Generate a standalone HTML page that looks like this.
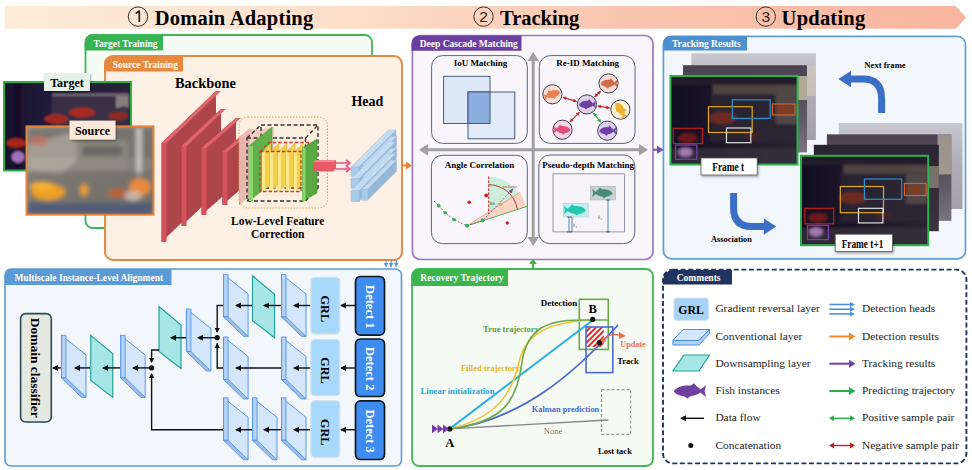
<!DOCTYPE html>
<html><head><meta charset="utf-8">
<style>
html,body{margin:0;padding:0;background:#fff;width:972px;height:470px;overflow:hidden}
svg{display:block}
text{font-family:"Liberation Serif",serif}
.lb{font-weight:bold;fill:#fff;font-size:9.5px}
.b{font-weight:bold}
text.sans{font-family:"Liberation Sans",sans-serif}
</style></head><body>
<svg width="972" height="470" viewBox="0 0 972 470">
<defs>
<linearGradient id="hdr" gradientUnits="userSpaceOnUse" x1="5" x2="967" y1="0" y2="0">
<stop offset="0" stop-color="#fdecd7"/>
<stop offset="0.3" stop-color="#fde2ce"/>
<stop offset="0.5" stop-color="#fcd2be"/>
<stop offset="0.65" stop-color="#fac4ae"/>
<stop offset="1" stop-color="#f9b69f"/>
</linearGradient>
</defs>
<!-- HEADER -->
<polygon points="4.7,6.1 955.8,6.1 966.2,17.4 955.8,28.7 4.7,28.7" fill="url(#hdr)"/>
<g fill="none" stroke="#333" stroke-width="1"><circle cx="138" cy="16.6" r="9.7"/><circle cx="483.5" cy="16.6" r="9.7"/><circle cx="765.8" cy="16.6" r="9.7"/></g>
<path d="M139.3,22 V11 L135.6,13.6" fill="none" stroke="#222" stroke-width="1.7" stroke-linejoin="round"/>
<g font-size="15.5" text-anchor="middle" fill="#222"><text class="sans" x="483.5" y="22">2</text><text class="sans" x="765.8" y="22">3</text></g>
<text x="154.7" y="24.5" font-size="20.5" class="b" textLength="158.5" lengthAdjust="spacing">Domain Adapting</text>
<text x="500" y="24.5" font-size="20.5" class="b">Tracking</text>
<text x="781.6" y="24.5" font-size="20.5" class="b" textLength="83.6" lengthAdjust="spacing">Updating</text>

<!-- TARGET TRAINING -->
<rect x="85.5" y="35" width="286.5" height="193" rx="7" fill="#f6fbf6" stroke="#40b858" stroke-width="1.8"/>
<path d="M84.6,50.5 V42 a7,7 0 0 1 7,-7 H163 V50.5 Z" fill="#36b454"/>
<text x="125.6" y="47" class="lb" text-anchor="middle">Target Training</text>

<!-- SOURCE TRAINING -->
<rect x="105" y="56" width="297" height="204" rx="8" fill="#fdf0e4" stroke="#e6883e" stroke-width="1.9"/>
<path d="M104.1,71.5 V64 a8,8 0 0 1 8,-8 H183 V71.5 Z" fill="#e6883e"/>
<text x="145.3" y="67.8" class="lb" text-anchor="middle">Source Training</text>


<!-- PHOTOS -->
<defs>
<linearGradient id="tgtbg" x1="0" x2="1" y1="0" y2="0"><stop offset="0" stop-color="#16122e"/><stop offset="0.4" stop-color="#221c3c"/><stop offset="1" stop-color="#2a2238"/></linearGradient>
<linearGradient id="srcbg" x1="0" x2="1" y1="0" y2="1"><stop offset="0" stop-color="#9a968c"/><stop offset="0.5" stop-color="#8a867e"/><stop offset="1" stop-color="#767472"/></linearGradient>
<filter id="blur2" filterUnits="userSpaceOnUse" x="0" y="0" width="972" height="470"><feGaussianBlur stdDeviation="2"/></filter>
<filter id="blur1" filterUnits="userSpaceOnUse" x="0" y="0" width="972" height="470"><feGaussianBlur stdDeviation="1.2"/></filter>
<clipPath id="tclip"><rect x="5" y="83" width="125" height="86.5"/></clipPath>
<clipPath id="sclip"><rect x="27.5" y="127.4" width="125" height="86.3"/></clipPath>
<filter id="sh" x="-20%" y="-20%" width="140%" height="150%"><feDropShadow dx="1" dy="1.5" stdDeviation="1" flood-color="#000" flood-opacity="0.35"/></filter>
</defs>
<rect x="4" y="82" width="127" height="88.5" fill="url(#tgtbg)" stroke="#2ab04a" stroke-width="2"/>
<g clip-path="url(#tclip)"><g filter="url(#blur1)">
<rect x="15" y="84" width="6" height="84" fill="#0e0a20" opacity="0.6"/>
<rect x="52" y="93" width="77" height="3" fill="#8a8088" opacity="0.7"/>
<rect x="52" y="96" width="77" height="30" fill="#3e3448" opacity="0.8"/>
<rect x="116" y="96" width="13" height="12" fill="#a8a090" opacity="0.7"/>
<rect x="52" y="126" width="77" height="10" fill="#2e2638" opacity="0.8"/>
<ellipse cx="82" cy="112.5" rx="13" ry="5" fill="#a82a20"/>
<ellipse cx="56" cy="119" rx="12" ry="5" fill="#a02a20"/>
<ellipse cx="118" cy="116" rx="10" ry="4" fill="#902a20"/>
<ellipse cx="124" cy="109" rx="5" ry="3" fill="#3a3a50"/>
<ellipse cx="16" cy="143" rx="10" ry="5" fill="#a82818"/>
<ellipse cx="18" cy="157" rx="7" ry="6" fill="#a070b8"/>
</g></g>
<rect x="26.5" y="126.4" width="127" height="88.3" fill="url(#srcbg)" stroke="#e8843a" stroke-width="2"/>
<g clip-path="url(#sclip)"><g filter="url(#blur2)">
<rect x="28" y="128" width="124" height="30" fill="#6a6862" opacity="0.6"/>
<polygon points="28,145 70,133 90,150 60,175 28,170" fill="#c4bcae" opacity="0.55"/>
<rect x="76" y="141" width="52" height="30" fill="#8e8a82" opacity="0.9"/>
<rect x="82" y="146" width="40" height="10" fill="#5a5a5a" opacity="0.7"/>
<rect x="136" y="128" width="6" height="48" fill="#d8d4cc" opacity="0.8"/>
<rect x="28" y="171" width="124" height="33" fill="#6a6660" opacity="0.5"/>
<rect x="28" y="203" width="124" height="11" fill="#4e5878" opacity="0.9"/>
<ellipse cx="39" cy="141" rx="9" ry="4.5" fill="#c87060" opacity="0.8"/>
<ellipse cx="48" cy="192" rx="17" ry="8" fill="#f0a020"/>
<ellipse cx="42" cy="186" rx="12" ry="4" fill="#f8b030"/>
<ellipse cx="84" cy="190" rx="4" ry="6" fill="#f0a030"/>
<ellipse cx="118" cy="193" rx="10" ry="4" fill="#c06030"/>
<ellipse cx="140" cy="187" rx="11" ry="9" fill="#e88a40"/>
<ellipse cx="133" cy="196" rx="9" ry="5" fill="#d8c0b8" opacity="0.8"/>
</g></g>
<rect x="44" y="73" width="46" height="18" fill="#e6f1e8" filter="url(#sh)"/>
<text x="67" y="86.5" font-size="12" class="b" text-anchor="middle">Target</text>
<rect x="69.5" y="120.6" width="46" height="19" fill="#fbe9da" filter="url(#sh)"/>
<text x="92.5" y="134.5" font-size="12" class="b" text-anchor="middle">Source</text>

<!-- BACKBONE -->
<text x="175" y="88" font-size="14.4" class="b">Backbone</text>
<g>
<polygon points="161.5,143 216,91 216,190 161.5,242" fill="#ae454b"/>
<polygon points="161.5,143 166.5,143 221,91 216,91" fill="#e0646c"/>
<rect x="161.5" y="143" width="5" height="99" fill="#d4525c"/>
<polygon points="181.5,146 221,109 221,189 181.5,226" fill="#ae454b"/>
<polygon points="181.5,146 186.5,146 226,109 221,109" fill="#e0646c"/>
<rect x="181.5" y="146" width="5" height="80" fill="#d4525c"/>
<polygon points="201.5,148 236,118 236,185 201.5,215" fill="#ae454b"/>
<polygon points="201.5,148 206.5,148 241,118 236,118" fill="#e0646c"/>
<rect x="201.5" y="148" width="5" height="67" fill="#d4525c"/>
<polygon points="222.5,152 249,129 249,182 222.5,205" fill="#ae454b"/>
<polygon points="222.5,152 227.5,152 254,129 249,129" fill="#e0646c"/>
<rect x="222.5" y="152" width="5" height="53" fill="#d4525c"/>
</g>
<polygon points="239,140 250,131 250,196 239,205" fill="#d0606a" opacity="0.9"/>
<polygon points="250,131 274,127 274,180 250,196" fill="#cc6a70" opacity="0.6"/>
<!-- LLFC -->
<rect x="239" y="117" width="88.5" height="91" rx="9" fill="#fcefdc" fill-opacity="0.6" stroke="#d4a84a" stroke-width="1" stroke-dasharray="1.5,1.5"/>
<g fill="none" stroke="#333" stroke-width="1.4" stroke-dasharray="4,2.5">
<rect x="247" y="138" width="58.5" height="63"/>
<rect x="261" y="125" width="57" height="63"/>
<line x1="247" y1="138" x2="261" y2="125"/><line x1="305.5" y1="138" x2="318" y2="125"/>
<line x1="247" y1="201" x2="261" y2="188"/><line x1="305.5" y1="201" x2="318" y2="188"/>
</g>
<polygon points="249,146 272,127 272,183 249,201" fill="#62b04a" stroke="#4a9a3a" stroke-width="0.6"/>
<polygon points="249,146 253,146 253,201 249,201" fill="#8ad86a"/>
<g fill="#f3d04a" stroke="#d8a830" stroke-width="0.5">
<polygon points="262,152 271,143 271,184 262,192"/>
<polygon points="270,152 279,143 279,184 270,192"/>
<polygon points="278,152 287,143 287,184 278,192"/>
<polygon points="286,152 295,143 295,184 286,192"/>
<polygon points="294,152 303,143 303,184 294,192"/>
</g>
<g fill="#fde88a"><rect x="262" y="152" width="3" height="40"/><rect x="270" y="152" width="3" height="40"/><rect x="278" y="152" width="3" height="40"/><rect x="286" y="152" width="3" height="40"/><rect x="294" y="152" width="3" height="40"/></g>
<g fill="none" stroke="#d03a2a" stroke-width="1.3" stroke-dasharray="3.5,2">
<rect x="260" y="151.5" width="41" height="40"/>
<polyline points="260,151.5 269,142.5 310,142.5 301,151.5"/>
</g>
<polygon points="302.5,148 317,139 317,193 302.5,201" fill="#5aa844" stroke="#4a9a3a" stroke-width="0.6"/>
<polygon points="302.5,148 305.5,148 305.5,201 302.5,201" fill="#8ad86a"/>
<text x="277.7" y="224.5" font-size="11.5" class="b" text-anchor="middle">Low-Level Feature</text>
<text x="277.7" y="237.5" font-size="11.5" class="b" text-anchor="middle">Correction</text>
<!-- red box + arrows -->
<polygon points="313,162 333,162 336,160 336,169 333,171.5 313,171.5" fill="#e85a66"/>
<polygon points="313,162 333,162 336,160 316,160" fill="#f08890"/>
<g stroke="#e85a8a" stroke-width="1.6" fill="none"><line x1="336" y1="163" x2="349" y2="163"/><line x1="336" y1="169" x2="349" y2="169"/>
<polyline points="346,160 350,163 346,166"/><polyline points="346,166 350,169 346,172"/></g>
<!-- HEAD -->
<text x="351.4" y="106" font-size="14" class="b">Head</text>
<g stroke="#9cbcdc" stroke-width="0.4">
<polygon points="351,167 359,167 396,130 388,130" fill="#c4dcf2"/>
<polygon points="359,167 359,176.5 396,139.5 396,130" fill="#98b8d8"/>
<rect x="351" y="167" width="8" height="9.5" fill="#aacaea"/>
<polygon points="362,165.5 367.5,165.5 396.5,136.5 391,136.5" fill="#c4dcf2"/>
<polygon points="367.5,165.5 367.5,175.0 396.5,146.0 396.5,136.5" fill="#98b8d8"/>
<rect x="362" y="165.5" width="5.5" height="9.5" fill="#aacaea"/>
<polygon points="351,178.8 359,178.8 396,141.8 388,141.8" fill="#c4dcf2"/>
<polygon points="359,178.8 359,188.3 396,151.3 396,141.8" fill="#98b8d8"/>
<rect x="351" y="178.8" width="8" height="9.5" fill="#aacaea"/>
<polygon points="362,177.3 367.5,177.3 396.5,148.3 391,148.3" fill="#c4dcf2"/>
<polygon points="367.5,177.3 367.5,186.8 396.5,157.8 396.5,148.3" fill="#98b8d8"/>
<rect x="362" y="177.3" width="5.5" height="9.5" fill="#aacaea"/>
<polygon points="351,190.8 359,190.8 396,153.8 388,153.8" fill="#c4dcf2"/>
<polygon points="359,190.8 359,201.8 396,164.8 396,153.8" fill="#98b8d8"/>
<rect x="351" y="190.8" width="8" height="11" fill="#aacaea"/>
<polygon points="362,189.3 367.5,189.3 396.5,160.3 391,160.3" fill="#c4dcf2"/>
<polygon points="367.5,189.3 367.5,200.3 396.5,171.3 396.5,160.3" fill="#98b8d8"/>
<rect x="362" y="189.3" width="5.5" height="11" fill="#aacaea"/>
</g>
<!-- orange arrow -->
<line x1="402" y1="165.5" x2="408" y2="165.5" stroke="#e8843a" stroke-width="2"/>
<polygon points="406,161.5 412,165.5 406,169.5" fill="#e8843a"/>
<!-- blue triple arrows -->
<g stroke="#5b9bd5" stroke-width="1.3"><line x1="386" y1="260" x2="386" y2="265"/><line x1="391" y1="260" x2="391" y2="265"/><line x1="396.2" y1="260" x2="396.2" y2="265"/></g>
<g fill="#5b9bd5"><polygon points="383.8,263 388.2,263 386,268"/><polygon points="388.8,263 393.2,263 391,268"/><polygon points="394,263 398.4,263 396.2,268"/></g>

<!-- DEEP CASCADE -->
<rect x="412.4" y="35.5" width="240.6" height="224" rx="8" fill="#f8f5fb" stroke="#9a78c4" stroke-width="1.7"/>
<path d="M411.5,50.8 V43.5 a8,8 0 0 1 8,-8 H521.5 V50.8 Z" fill="#6b3fa0"/>
<text x="468.8" y="47" class="lb" text-anchor="middle">Deep Cascade Matching</text>


<!-- DCM content -->
<g fill="#f8f6fb" stroke="#4a5670" stroke-width="0.9">
<rect x="431.6" y="55.6" width="95.7" height="87.8" rx="11"/>
<rect x="539.3" y="55.6" width="95.7" height="87.8" rx="11"/>
<rect x="431.4" y="155.3" width="95.9" height="88.3" rx="11"/>
<rect x="538.8" y="155" width="96" height="88.6" rx="11"/>
</g>
<g font-size="9" class="b" text-anchor="middle">
<text x="480.5" y="65.5">IoU Matching</text>
<text x="587.7" y="65.5">Re-ID Matching</text>
<text x="479.5" y="167.6">Angle Correlation</text>
<text x="588.2" y="167.6">Pseudo-depth Matching</text>
</g>
<!-- IoU squares -->
<rect x="443.6" y="76.3" width="46.4" height="47.1" fill="#dde9f6" stroke="#3a4a6a" stroke-width="0.9"/>
<rect x="468" y="92" width="46.8" height="46.8" fill="#dde9f6" fill-opacity="0.85" stroke="#3a4a6a" stroke-width="0.9"/>
<rect x="468" y="92" width="22" height="31.4" fill="#8aaee0" stroke="#3a4a6a" stroke-width="0.9"/>
<!-- gray cross arrows -->
<g stroke="#a0a0a0" stroke-width="3" fill="#a0a0a0">
<line x1="533.2" y1="60" x2="533.2" y2="238"/>
<line x1="427" y1="149.7" x2="640" y2="149.7"/>
</g>
<g fill="#a0a0a0">
<polygon points="527.5,61 533.2,52 538.9,61"/>
<polygon points="527.5,237 533.2,246 538.9,237"/>
<polygon points="428,144 419,149.7 428,155.4"/>
<polygon points="639,144 648,149.7 639,155.4"/>
</g>
<!-- purple arrow to tracking results -->
<line x1="653" y1="149.7" x2="659" y2="149.7" stroke="#7b4fa8" stroke-width="2"/>
<polygon points="657,145.7 664,149.7 657,153.7" fill="#7b4fa8"/>
<!-- green arrow up -->
<line x1="533" y1="268" x2="533" y2="263" stroke="#3cb54a" stroke-width="2"/>
<polygon points="529,264 533,259 537,264" fill="#3cb54a"/>
<!-- ReID -->
<defs>
<path id="fish" d="M-8,0.3 C-6.5,-2.8 -3,-4 1,-3.6 L2.5,-5.2 L4.2,-3 C5,-2.4 5.6,-1.6 6,-1 L9,-4 L8.2,0 L9,4 L6,1 C5,2 3,3.2 0.5,3.6 L-0.8,5 L-2.6,3.5 C-5,3.2 -7,2.2 -8,0.3 Z"/>
<marker id="rh" viewBox="0 0 6 6" refX="5" refY="3" markerWidth="3.2" markerHeight="3.2" orient="auto-start-reverse"><path d="M0,0 L6,3 L0,6 Z" fill="#c82a2a"/></marker>
<marker id="gh" viewBox="0 0 6 6" refX="5" refY="3" markerWidth="3.2" markerHeight="3.2" orient="auto-start-reverse"><path d="M0,0 L6,3 L0,6 Z" fill="#2ab04a"/></marker>
</defs>
<g stroke-width="1.2">
<line x1="576.3" y1="101.3" x2="563.0" y2="97.4" stroke="#c82a2a" marker-start="url(#rh)" marker-end="url(#rh)"/>
<line x1="594.8" y1="96.7" x2="600.6" y2="91.1" stroke="#c82a2a" marker-start="url(#rh)" marker-end="url(#rh)"/>
<line x1="597.8" y1="106.1" x2="609.5" y2="107.9" stroke="#c82a2a" marker-start="url(#rh)" marker-end="url(#rh)"/>
<line x1="579.3" y1="112.3" x2="570.1" y2="121.8" stroke="#c82a2a" marker-start="url(#rh)" marker-end="url(#rh)"/>
<line x1="593.6" y1="113.1" x2="600.6" y2="122.0" stroke="#2ab04a" marker-start="url(#gh)" marker-end="url(#gh)"/>
</g>
<g stroke="#3a4060" stroke-width="1">
<circle cx="608.5" cy="83.4" r="9.6" fill="#f4dcd4"/>
<circle cx="552.4" cy="94.3" r="9.6" fill="#fbe0d4"/>
<circle cx="586.9" cy="104.4" r="9.6" fill="#dcd0ea"/>
<circle cx="620.4" cy="109.6" r="9.6" fill="#fdf1d4"/>
<circle cx="562.5" cy="129.7" r="9.6" fill="#f7d6e0"/>
<circle cx="607.3" cy="130.7" r="9.6" fill="#ddd2ee"/>
</g>
<use href="#fish" transform="translate(608.5,83.4)" fill="#d2694a"/>
<use href="#fish" transform="translate(552.4,94.3) rotate(-20) scale(-1,1)" fill="#f08050"/>
<use href="#fish" transform="translate(586.9,104.4)" fill="#7040a0"/>
<use href="#fish" transform="translate(620.4,109.6) rotate(60)" fill="#f0b030"/>
<use href="#fish" transform="translate(562.5,129.7) scale(-1,1)" fill="#e05080"/>
<use href="#fish" transform="translate(607.3,130.7)" fill="#7040a8"/>
<!-- Angle correlation -->
<path d="M488.7,176.4 A37.6,37.6 0 0 1 524.5,207 L488.7,214 Z" fill="#cdeedb"/>
<path d="M467,225.8 L520,192.3 Q523.5,199 526,206.5 Z" fill="#f9d3c3"/>
<path d="M488.7,184.7 A29.3,29.3 0 0 1 517.5,209.6" fill="none" stroke="#b83a3a" stroke-width="1"/>
<line x1="467" y1="225.8" x2="527" y2="206.4" stroke="#3cb04a" stroke-width="0.9"/>
<line x1="467" y1="225.8" x2="520" y2="192.3" stroke="#f0a070" stroke-width="0.9"/>
<line x1="488.7" y1="176.4" x2="488.7" y2="214" stroke="#c03a3a" stroke-width="1.2" stroke-dasharray="2.5,1.5"/>
<polyline points="434,201 438.8,205.7 445.2,212.8 454.1,219.8 467,225.8 482.7,220.4 511,191" fill="none" stroke="#7a5aa0" stroke-width="0.9" stroke-dasharray="2,1.5"/>
<polygon points="508.5,191 513.5,188.3 511.5,193.5" fill="#6a4aa0"/>
<g fill="#2ab04a"><circle cx="438.8" cy="205.7" r="1.8"/><circle cx="445.2" cy="212.8" r="1.8"/><circle cx="454.1" cy="219.8" r="1.8"/><circle cx="467" cy="225.8" r="2"/><circle cx="482.7" cy="220.4" r="1.9"/></g>
<g fill="#d02020"><circle cx="469.2" cy="202.2" r="1.8"/><circle cx="486.2" cy="195.5" r="1.9"/><circle cx="507.3" cy="223" r="1.7"/></g>
<circle cx="500.6" cy="204.2" r="1.8" fill="#f39a60"/>
<text x="489.5" y="205" font-size="4.5" fill="#333">Δθ</text>
<text x="503" y="187.5" font-size="3.5" fill="#b83a3a">prediction</text>
<!-- pseudo-depth -->
<rect x="553" y="173.8" width="71.4" height="58.1" fill="#f6f4f9" stroke="#808090" stroke-width="0.8"/>
<rect x="590.3" y="186.2" width="25.1" height="13.8" fill="#c8d2d2" stroke="#9aa" stroke-width="0.5"/>
<use href="#fish" transform="translate(603,193) scale(-1.2,1.05)" fill="#4a8a78"/>
<rect x="563.3" y="203.2" width="24.9" height="13.8" fill="#c6eeee" stroke="#9cc" stroke-width="0.5"/>
<use href="#fish" transform="translate(575.5,210) scale(-1.3,1.1)" fill="#20c8b0"/>
<g stroke="#3a8ad0" stroke-width="1"><line x1="569" y1="217" x2="569" y2="232"/><line x1="608" y1="200" x2="608" y2="232"/></g>
<g stroke="#222" stroke-width="0.6" fill="none"><polyline points="567,217 572,217 572,232 567,232"/><polyline points="606,200 610,200"/><polyline points="606,232 610,232"/></g>
<text x="573" y="227" font-size="5" fill="#333">ℓ₁</text>
<text x="598" y="219" font-size="5" fill="#333">ℓ₂</text>

<!-- TRACKING RESULTS -->
<rect x="663.4" y="36.4" width="302.1" height="222.4" rx="8" fill="#f3f6fa" stroke="#5fa0dc" stroke-width="1.7"/>
<path d="M663,50.5 V43 a7,7 0 0 1 7,-7 H747 V50.5 Z" fill="#4a90d0"/>
<text x="706.3" y="47" class="lb" text-anchor="middle">Tracking Results</text>


<!-- TR content -->
<defs>
<linearGradient id="frm" x1="0" x2="1" y1="0" y2="0"><stop offset="0" stop-color="#120e22"/><stop offset="0.4" stop-color="#1c1628"/><stop offset="1" stop-color="#2a2230"/></linearGradient>
<linearGradient id="bk1" x1="0" x2="0" y1="0" y2="1"><stop offset="0" stop-color="#c8c8ce"/><stop offset="0.5" stop-color="#aeacb4"/><stop offset="1" stop-color="#a4a0a8"/></linearGradient>
<linearGradient id="bk2" x1="0" x2="0" y1="0" y2="1"><stop offset="0" stop-color="#4a4250"/><stop offset="0.6" stop-color="#5e5866"/><stop offset="1" stop-color="#7a7480"/></linearGradient>
<linearGradient id="bk3" x1="0" x2="0" y1="0" y2="1"><stop offset="0" stop-color="#2a2432"/><stop offset="1" stop-color="#3a3440"/></linearGradient>
<filter id="blur3" x="-0.2" y="-0.2" width="1.4" height="1.4"><feGaussianBlur stdDeviation="1.5"/></filter>
<clipPath id="fclip"><rect x="0" y="0" width="127" height="89"/></clipPath>
<g id="frameimg">
<rect x="0" y="0" width="127" height="89" fill="url(#frm)"/>
<g filter="url(#blur3)" clip-path="url(#fclip)">
<rect x="0" y="0" width="127" height="9" fill="#241e2c"/>
<rect x="42" y="9" width="85" height="9" fill="#5a5048" opacity="0.8"/>
<rect x="40" y="18" width="87" height="48" fill="#2c2434" opacity="0.8"/>
<rect x="105" y="18" width="22" height="30" fill="#6a6058" opacity="0.6"/>
<rect x="0" y="72" width="127" height="17" fill="#36343a" opacity="0.7"/>
<ellipse cx="52" cy="42" rx="14" ry="6" fill="#7a2a20" opacity="0.85"/>
<ellipse cx="17" cy="62" rx="10" ry="5" fill="#7a1a1a" opacity="0.9"/>
<ellipse cx="15" cy="76" rx="7" ry="5" fill="#b080c0" opacity="0.9"/>
<ellipse cx="114" cy="34" rx="9" ry="4" fill="#8a3a1a" opacity="0.9"/>
<ellipse cx="82" cy="60" rx="8" ry="4" fill="#4a2020" opacity="0.8"/>
</g>
</g>
</defs>
<!-- frame t stack -->
<rect x="691.3" y="53.3" width="124.6" height="86.7" fill="url(#bk1)"/>
<rect x="683" y="65.2" width="124" height="87.2" fill="url(#bk2)"/>
<rect x="797.5" y="76" width="9.5" height="24" fill="#c8c0a8" opacity="0.8"/>
<rect x="807" y="66" width="8.9" height="30" fill="#d0ccc0" opacity="0.6"/>
<g transform="translate(670.5,76)"><use href="#frameimg"/></g>
<rect x="670.5" y="76" width="127" height="88.5" fill="none" stroke="#2ab04a" stroke-width="2"/>
<g fill="none" stroke-width="1.2">
<rect x="673.3" y="128.3" width="29.1" height="15.3" stroke="#c02020"/>
<rect x="675.5" y="145" width="21.3" height="14.3" stroke="#7a40b0"/>
<rect x="708.5" y="106.7" width="43.7" height="25.8" stroke="#e0a820"/>
<rect x="732.3" y="99.8" width="37.9" height="18.6" stroke="#2a90d0"/>
<rect x="772.4" y="104" width="22.6" height="11" stroke="#e06020"/>
<rect x="726.5" y="128" width="24.3" height="14.7" stroke="#e0e0e0"/>
</g>
<rect x="701" y="158" width="56.2" height="17" fill="#fff" stroke="#555" stroke-width="0.8" filter="url(#sh)"/>
<text x="728.2" y="170.5" font-size="11.5" class="b" text-anchor="middle" textLength="32" lengthAdjust="spacingAndGlyphs">Frame t</text>
<!-- frame t+1 stack -->
<rect x="838.8" y="123" width="123.7" height="86" fill="url(#bk1)"/>
<rect x="826.9" y="134.4" width="124.5" height="86.4" fill="url(#bk2)"/>
<rect x="937.5" y="134.4" width="13.9" height="40" fill="#cfc8b4" opacity="0.6"/>
<rect x="813.8" y="144.8" width="125" height="86.4" fill="url(#bk3)"/>
<rect x="928" y="166" width="10.8" height="22" fill="#a8a090" opacity="0.6"/>
<g transform="translate(801,155.8)"><use href="#frameimg"/></g>
<rect x="801" y="155.8" width="127.2" height="89.4" fill="none" stroke="#2ab04a" stroke-width="2"/>
<g fill="none" stroke-width="1.2">
<rect x="804.8" y="208.3" width="28.9" height="15.5" stroke="#c02020"/>
<rect x="807.5" y="225.3" width="20.9" height="14.3" stroke="#7a40b0"/>
<rect x="840.3" y="186.5" width="43.2" height="26.2" stroke="#e0a820"/>
<rect x="864.4" y="179" width="37.3" height="20.3" stroke="#2a90d0"/>
<rect x="904.4" y="183.5" width="21.7" height="12" stroke="#e06020"/>
<rect x="858.5" y="208.3" width="24.4" height="14.6" stroke="#e0e0e0"/>
</g>
<rect x="835.2" y="234.2" width="57.2" height="17.3" fill="#fff" stroke="#555" stroke-width="0.8" filter="url(#sh)"/>
<text x="862.5" y="247.5" font-size="11.5" class="b" text-anchor="middle" textLength="41.7" lengthAdjust="spacingAndGlyphs">Frame t+1</text>
<!-- next frame arrow -->
<text x="885" y="67.5" font-size="8.6" class="b" text-anchor="middle">Next frame</text>
<path d="M881.6,113 V99 Q881.6,79.1 863,79.1 H849" fill="none" stroke="#3b6ec6" stroke-width="7"/>
<polygon points="851,70.9 838.3,79.1 851,87.3" fill="#3b6ec6"/>
<!-- association arrow -->
<path d="M733.6,193 V208 Q733.6,226.5 752,226.5 H765" fill="none" stroke="#3b6ec6" stroke-width="7"/>
<polygon points="763.9,218.4 776.2,226.5 763.9,234.8" fill="#3b6ec6"/>
<text x="731.5" y="241.5" font-size="8.4" class="b" text-anchor="middle">Association</text>

<!-- MILA -->
<rect x="5" y="269" width="396.5" height="197" rx="6" fill="#f3f6fa" stroke="#5b9bd5" stroke-width="1.6"/>
<path d="M5,285 V275 a6,6 0 0 1 6,-6 H171.5 V285 Z" fill="#5b9bd5"/>
<text x="88.8" y="280.5" class="lb" text-anchor="middle">Multiscale Instance-Level Alignment</text>


<!-- MILA content -->
<defs>
<g id="conv">
<polygon points="0,0 24.5,19.5 24.5,62 0,42.5" fill="#d4e6fb" stroke="#4a8ee6" stroke-width="0.9"/>
<polygon points="0,0 4.5,0 4.5,42.5 0,42.5" fill="#b4d2f6" stroke="#4a8ee6" stroke-width="0.8"/>
<polygon points="0,42.5 4.5,42.5 24.5,62 20,62" fill="#9cbde6" stroke="#4a8ee6" stroke-width="0.8"/>
</g>
<g id="down">
<polygon points="0,0 22,18.5 22,62 0,45" fill="#a6e6e6" stroke="#23a398" stroke-width="1.2"/>
</g>
<marker id="ah" viewBox="0 0 6 6" refX="5" refY="3" markerWidth="4.3" markerHeight="4.3" orient="auto"><path d="M0,0 L6,3 L0,6 Z" fill="#111"/></marker>
</defs>
<rect x="20.6" y="313.6" width="30.7" height="108.4" rx="5" fill="#e6e8e2" stroke="#2a4a5a" stroke-width="1.6"/>
<text transform="translate(31,367.8) rotate(90)" font-size="13.5" class="b" text-anchor="middle">Domain classifier</text>
<!-- level 3 (lowest scale) row at y 367.9 -->
<use href="#conv" transform="translate(61.5,335.4)"/>
<use href="#down" transform="translate(90.8,335.4)"/>
<use href="#conv" transform="translate(120.7,335.4)"/>
<use href="#down" transform="translate(159,306.5)"/>
<use href="#conv" transform="translate(186.4,309)"/>
<!-- right rows -->
<use href="#conv" transform="translate(223.6,274.4)"/>
<use href="#down" transform="translate(252.5,275.7)"/>
<use href="#conv" transform="translate(281.5,274.4)"/>
<use href="#conv" transform="translate(223.6,337)"/>
<use href="#conv" transform="translate(281.5,337)"/>
<use href="#conv" transform="translate(223.6,397.8)"/>
<use href="#conv" transform="translate(252.5,397.8)"/>
<use href="#conv" transform="translate(281.5,397.8)"/>
<!-- arrows -->
<g stroke="#111" stroke-width="1.4" fill="none" marker-end="url(#ah)">
<line x1="61" y1="367.9" x2="53" y2="367.9"/>
<line x1="90" y1="367.9" x2="75" y2="367.9"/>
<line x1="120" y1="367.9" x2="103" y2="367.9"/>
<line x1="151.6" y1="367.9" x2="133" y2="367.9"/>
<line x1="186" y1="337.7" x2="171" y2="337.7"/>
<line x1="217.2" y1="337.7" x2="198" y2="337.7"/>
<line x1="252" y1="305.5" x2="236" y2="305.5"/>
<line x1="281" y1="305.5" x2="264" y2="305.5"/>
<line x1="310.5" y1="305.5" x2="294" y2="305.5"/>
<line x1="355" y1="305.5" x2="341" y2="305.5"/>
<line x1="281" y1="368" x2="236" y2="368"/>
<line x1="310.5" y1="368" x2="294" y2="368"/>
<line x1="355" y1="368" x2="341" y2="368"/>
<line x1="252" y1="429.7" x2="236" y2="429.7"/>
<line x1="281" y1="429.7" x2="264" y2="429.7"/>
<line x1="310.5" y1="429.7" x2="294" y2="429.7"/>
<line x1="355" y1="429.7" x2="341" y2="429.7"/>
</g>
<g stroke="#111" stroke-width="1.4" fill="none">
<polyline points="159,350 151.6,350 151.6,362"/>
<polyline points="223,429.7 151.6,429.7 151.6,374"/>
<polyline points="223,305.5 217.2,305.5 217.2,332"/>
<polyline points="223,368 217.2,368 217.2,343"/>
</g>
<g fill="#111">
<circle cx="151.6" cy="367.9" r="2.6"/><circle cx="217.2" cy="337.7" r="2.6"/>
<polygon points="149,358 151.6,363 154.2,358"/><polygon points="149,378 151.6,373 154.2,378"/>
<polygon points="214.6,328 217.2,333 219.8,328"/><polygon points="214.6,348 217.2,343 219.8,348"/>
</g>
<!-- GRL + detect -->
<g fill="#a8d8fa" stroke="#d4e0ea" stroke-width="1.2">
<rect x="310.9" y="277.4" width="28.9" height="56.6" rx="4"/>
<rect x="310.9" y="339.5" width="28.9" height="56.2" rx="4"/>
<rect x="310.9" y="400.8" width="28.9" height="56.6" rx="4"/>
</g>
<g fill="#3f8cf0" stroke="#101820" stroke-width="1.7">
<rect x="355.5" y="276.5" width="29" height="58.7" rx="5"/>
<rect x="355.5" y="339" width="29" height="57.5" rx="5"/>
<rect x="355.5" y="400.8" width="29" height="58.7" rx="5"/>
</g>
<g font-size="12.2" class="b" text-anchor="middle">
<text transform="translate(320.8,308.8) rotate(90)">GRL</text>
<text transform="translate(320.8,370.5) rotate(90)">GRL</text>
<text transform="translate(320.8,432.2) rotate(90)">GRL</text>
</g>
<g font-size="12.5" class="b" text-anchor="middle" fill="#fff">
<text transform="translate(365.8,306.8) rotate(90)">Detect 1</text>
<text transform="translate(365.8,368.7) rotate(90)">Detect 2</text>
<text transform="translate(365.8,431.1) rotate(90)">Detect 3</text>
</g>

<!-- RECOVERY -->
<rect x="412" y="269" width="241" height="197" rx="7" fill="#f5fbf4" stroke="#40b858" stroke-width="1.8"/>
<path d="M412,286 V276 a7,7 0 0 1 7,-7 H508 V286 Z" fill="#3cb54a"/>
<text x="462" y="281" class="lb" text-anchor="middle">Recovery Trajectory</text>


<!-- RT content -->
<defs>
<pattern id="hatch" width="4" height="4" patternUnits="userSpaceOnUse" patternTransform="rotate(45)"><rect width="4" height="4" fill="#fff"/><rect width="2" height="4" fill="#e02a2a"/></pattern>
</defs>
<rect x="579.3" y="299.3" width="29" height="50.1" fill="none" stroke="#6aaa4a" stroke-width="1.6"/>
<rect x="586" y="327" width="17.8" height="20" fill="url(#hatch)"/>
<rect x="586" y="327" width="26.8" height="45.6" fill="none" stroke="#4a6ad0" stroke-width="1.6"/>
<rect x="601.6" y="389.6" width="29" height="44.7" fill="none" stroke="#999" stroke-width="1.2" stroke-dasharray="3,2"/>
<!-- curves -->
<line x1="449.7" y1="428.9" x2="608.3" y2="420" stroke="#888" stroke-width="1.3"/>
<path d="M449.7,428.9 C520.2,420.1 572.6,375.4 618,325" fill="none" stroke="#4a6ad0" stroke-width="1.8"/>
<line x1="449.7" y1="428.9" x2="593" y2="320" stroke="#29aee6" stroke-width="2"/>
<path d="M449.7,428.9 C495,418 512,395 519,362 C526,332 550,322 592.7,320" fill="none" stroke="#f2c43a" stroke-width="1.6"/>
<path d="M449.7,428.9 C505,422 517,400 522,362 C527,328 548,320 580,320 L609,320" fill="none" stroke="#6aaa4a" stroke-width="1.6"/>
<path d="M603,340 Q610,332 622,336" fill="none" stroke="#f07050" stroke-width="1.4"/>
<polygon points="601.5,344 602,337.5 606.5,341" fill="#f07050"/>
<polygon points="619,332 626,336 619,339" fill="#f07050"/>
<circle cx="592.7" cy="319.4" r="2.6" fill="#111"/>
<circle cx="599.4" cy="342.7" r="2.6" fill="#111"/>
<circle cx="449.7" cy="428.9" r="2.6" fill="#111"/>
<g fill="#7a3aa8"><polygon points="432,424.5 438,428.9 432,433.3"/><polygon points="437.5,424.5 443.5,428.9 437.5,433.3"/><polygon points="443,424.5 449,428.9 443,433.3"/></g>
<g class="b">
<text x="449.7" y="446.5" font-size="12.5" text-anchor="middle">A</text>
<text x="592.7" y="313" font-size="12.5" text-anchor="middle">B</text>
<text x="559" y="305.5" font-size="9" text-anchor="middle">Detection</text>
<text x="511" y="332" font-size="8.5" fill="#5aa040" text-anchor="middle">True trajectory</text>
<text x="490.5" y="371" font-size="8.5" fill="#e8b820" text-anchor="middle">Filled trajectory</text>
<text x="457.5" y="393.5" font-size="8.7" fill="#2aa6de" text-anchor="middle">Linear initialization</text>
<text x="565.5" y="411.8" font-size="8.4" fill="#4a6ad0" text-anchor="middle">Kalman prediction</text>
<text x="633" y="346.6" font-size="8.2" fill="#f07050" text-anchor="middle">Update</text>
<text x="628" y="364.4" font-size="8.5" text-anchor="middle">Track</text>
<text x="615" y="454.2" font-size="8.5" text-anchor="middle">Lost tack</text>
</g>
<text x="553" y="433.7" font-size="8.5" fill="#777" text-anchor="middle">None</text>

<!-- COMMENTS -->
<rect x="663" y="269.6" width="303.4" height="193.8" rx="10" fill="#fff" stroke="#203660" stroke-width="1.9" stroke-dasharray="5,2.6"/>
<path d="M663,284.6 V280 a10,10 0 0 1 10,-10 H732 V284.6 Z" fill="#1f3560"/>
<text x="698.6" y="280.5" class="lb" text-anchor="middle">Comments</text>


<!-- COMMENTS content -->
<rect x="673.8" y="298" width="34.9" height="22.4" rx="3" fill="#a6d2f6" stroke="#d6e6f4" stroke-width="1"/>
<text x="691" y="313.5" font-size="11.8" class="b" text-anchor="middle">GRL</text>
<polygon points="683,329.5 709.5,329.5 699,340.5 672.9,340.5" fill="#d4e6fb" stroke="#4a8ee6" stroke-width="1"/>
<polygon points="672.9,340.5 699,340.5 709.5,329.5 709.5,333.5 699,345 672.9,345" fill="#b4d2f6" stroke="#4a8ee6" stroke-width="1"/>
<polygon points="684,355 709.5,355 699,371 672.9,371" fill="#a6e6e6" stroke="#23a398" stroke-width="1.2"/>
<use href="#fish" transform="translate(689,391) scale(1.9,1.5)" fill="#7040a0"/>
<line x1="704" y1="418.3" x2="681" y2="418.3" stroke="#111" stroke-width="1.4" marker-end="url(#ah)"/>
<circle cx="690.8" cy="445.5" r="2.5" fill="#111"/>
<g font-size="11.4" fill="#222">
<text x="715.4" y="312.3">Gradient reversal layer</text>
<text x="715.4" y="339.6">Conventional layer</text>
<text x="715.4" y="366.8">Downsampling layer</text>
<text x="715.4" y="394.1">Fish instances</text>
<text x="715.4" y="421.4">Data flow</text>
<text x="715.4" y="448.6">Concatenation</text>
<text x="862" y="312.3">Detection heads</text>
<text x="862" y="339.6">Detection results</text>
<text x="862" y="366.8">Tracking results</text>
<text x="862" y="394.1">Predicting trajectory</text>
<text x="862" y="421.4">Positive sample pair</text>
<text x="862" y="448.6">Negative sample pair</text>
</g>
<g stroke="#4a90e0" stroke-width="1.6"><line x1="829.4" y1="304.5" x2="853" y2="304.5"/><line x1="829.4" y1="309.2" x2="853" y2="309.2"/><line x1="829.4" y1="313.9" x2="853" y2="313.9"/></g>
<g fill="#4a90e0"><polygon points="850,302 855,304.5 850,307"/><polygon points="850,306.7 855,309.2 850,311.7"/><polygon points="850,311.4 855,313.9 850,316.4"/></g>
<line x1="829.4" y1="336.5" x2="850" y2="336.5" stroke="#f0882a" stroke-width="2"/><polygon points="849,332.5 855.5,336.5 849,340.5" fill="#f0882a"/>
<line x1="829.4" y1="363.7" x2="850" y2="363.7" stroke="#7040b0" stroke-width="2"/><polygon points="849,359.7 855.5,363.7 849,367.7" fill="#7040b0"/>
<line x1="829.4" y1="391" x2="850" y2="391" stroke="#2ab04a" stroke-width="2"/><polygon points="849,387 855.5,391 849,395" fill="#2ab04a"/>
<line x1="833" y1="418.3" x2="851" y2="418.3" stroke="#2ab04a" stroke-width="1.4"/><polygon points="850,415.3 855,418.3 850,421.3" fill="#2ab04a"/><polygon points="834,415.3 829,418.3 834,421.3" fill="#2ab04a"/>
<line x1="833" y1="445.5" x2="851" y2="445.5" stroke="#c02020" stroke-width="1.4"/><polygon points="850,442.5 855,445.5 850,448.5" fill="#c02020"/><polygon points="834,442.5 829,445.5 834,448.5" fill="#c02020"/>

</svg>
</body></html>
